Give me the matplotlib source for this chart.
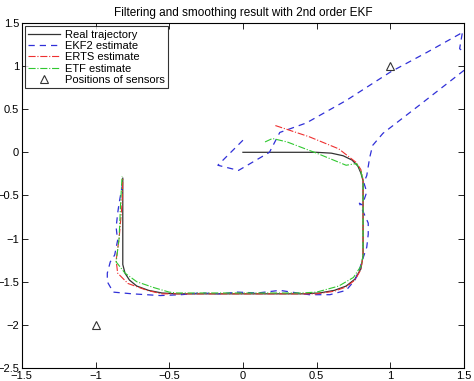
import matplotlib.pyplot as plt

plt.rcParams['font.family'] = ['Liberation Sans', 'DejaVu Sans']

# 실제 궤적
real_x = [0.0, 0.5, 0.6, 0.68, 0.74, 0.78, 0.80, 0.815, 0.815, 0.80, 0.76, 0.70, 0.62, 0.52, 0.40,
          -0.45, -0.55, -0.64, -0.72, -0.77, -0.80, -0.815, -0.815]
real_y = [0.0, 0.0, -0.01, -0.04, -0.09, -0.16, -0.24, -0.33, -1.20, -1.35, -1.47, -1.55, -1.60, -1.63, -1.64,
          -1.64, -1.63, -1.60, -1.55, -1.48, -1.40, -1.30, -0.30]

# EKF2 추정
ekf_x = [0.0, -0.17, -0.03, 0.18, 0.25, 0.43, 0.7, 1.0, 1.25, 1.47, 1.49, 1.48, 1.47, 1.55,
         1.5, 1.2, 0.95, 0.88, 0.86, 0.84, 0.82, 0.84, 0.81, 0.79, 0.85, 0.85, 0.84, 0.81, 0.79,
         0.76, 0.70, 0.59, 0.45, 0.25, 0.10, -0.04, -0.15, -0.29, -0.42, -0.56, -0.75, -0.88,
         -0.92, -0.92, -0.90, -0.87, -0.85, -0.86, -0.85, -0.84, -0.82, -0.82]
ekf_y = [0.14, -0.15, -0.21, 0.0, 0.23, 0.34, 0.6, 0.93, 1.16, 1.37, 1.40, 1.30, 1.20, 1.10,
         0.95, 0.55, 0.22, 0.08, -0.06, -0.27, -0.35, -0.46, -0.61, -0.59, -0.82, -0.95, -1.10,
         -1.25, -1.36, -1.48, -1.60, -1.65, -1.65, -1.60, -1.63, -1.62, -1.64, -1.63, -1.65,
         -1.66, -1.64, -1.62, -1.50, -1.40, -1.27, -1.19, -1.02, -0.87, -0.71, -0.59, -0.40, -0.32]

# ERTS 추정
erts_x = [0.22, 0.45, 0.65, 0.77, 0.80, 0.815, 0.815, 0.80, 0.76, 0.70, 0.62, 0.50, 0.40,
          -0.45, -0.55, -0.65, -0.78, -0.85, -0.86, -0.84, -0.82, -0.815]
erts_y = [0.31, 0.18, 0.04, -0.12, -0.20, -0.32, -1.20, -1.36, -1.48, -1.56, -1.61, -1.64, -1.64,
          -1.64, -1.64, -1.60, -1.52, -1.40, -1.25, -1.00, -0.60, -0.30]

# ETF 추정
etf_x = [0.15, 0.20, 0.30, 0.50, 0.70, 0.77, 0.80, 0.815, 0.815, 0.80, 0.75, 0.65, 0.50, 0.40,
         -0.45, -0.50, -0.60, -0.72, -0.80, -0.86, -0.84, -0.83, -0.82]
etf_y = [0.12, 0.16, 0.12, -0.01, -0.15, -0.13, -0.22, -0.32, -1.20, -1.32, -1.45, -1.55, -1.62, -1.63,
         -1.63, -1.62, -1.57, -1.50, -1.40, -1.27, -1.00, -0.60, -0.28]

# 센서 위치
sensor_x = [-1, 1]
sensor_y = [-2, 1]

xticks = [-1.5, -1, -0.5, 0, 0.5, 1, 1.5]
yticks = [-2.5, -2, -1.5, -1, -0.5, 0, 0.5, 1, 1.5]

fig = plt.figure(figsize=(4.74, 3.81), dpi=100)
ax = fig.add_axes([0.046, 0.034, 0.933, 0.906])
ax.plot(real_x, real_y, '-', color='#333333', lw=0.9, label='Real trajectory')
ax.plot(ekf_x, ekf_y, '--', color='#3030d8', lw=0.9, dashes=(5, 4), label='EKF2 estimate')
ax.plot(erts_x, erts_y, '-.', color='#ee3030', lw=0.8, label='ERTS estimate')
ax.plot(etf_x, etf_y, '-.', color='#30c830', lw=0.8, label='ETF estimate')
ax.plot(sensor_x, sensor_y, '^', mfc='none', mec='#333333', ms=6, mew=0.8, ls='none',
        label='Positions of sensors')

ax.set_xlim(-1.5, 1.5)
ax.set_ylim(-2.5, 1.5)
ax.set_xticks(xticks)
ax.set_yticks(yticks)
ax.set_xticklabels([('\u2212' + f'{abs(v):g}') if v < 0 else f'{v:g}' for v in xticks])
ax.set_yticklabels([('\u2212' + f'{abs(v):g}') if v < 0 else f'{v:g}' for v in yticks])
ax.tick_params(direction='in', top=True, right=True, labelsize=8, length=4, width=0.6, pad=2)
for s in ax.spines.values():
    s.set_linewidth(0.8)
ax.set_title('Filtering and smoothing result with 2nd order EKF', fontsize=8.5, pad=5)
leg = ax.legend(loc='upper left', fontsize=8, frameon=True, fancybox=False, edgecolor='black',
                borderaxespad=0.3, handlelength=2.8, labelspacing=0.12, borderpad=0.3, handletextpad=0.5)
leg.get_frame().set_linewidth(0.8)

fig.savefig('out.png', dpi=100)
